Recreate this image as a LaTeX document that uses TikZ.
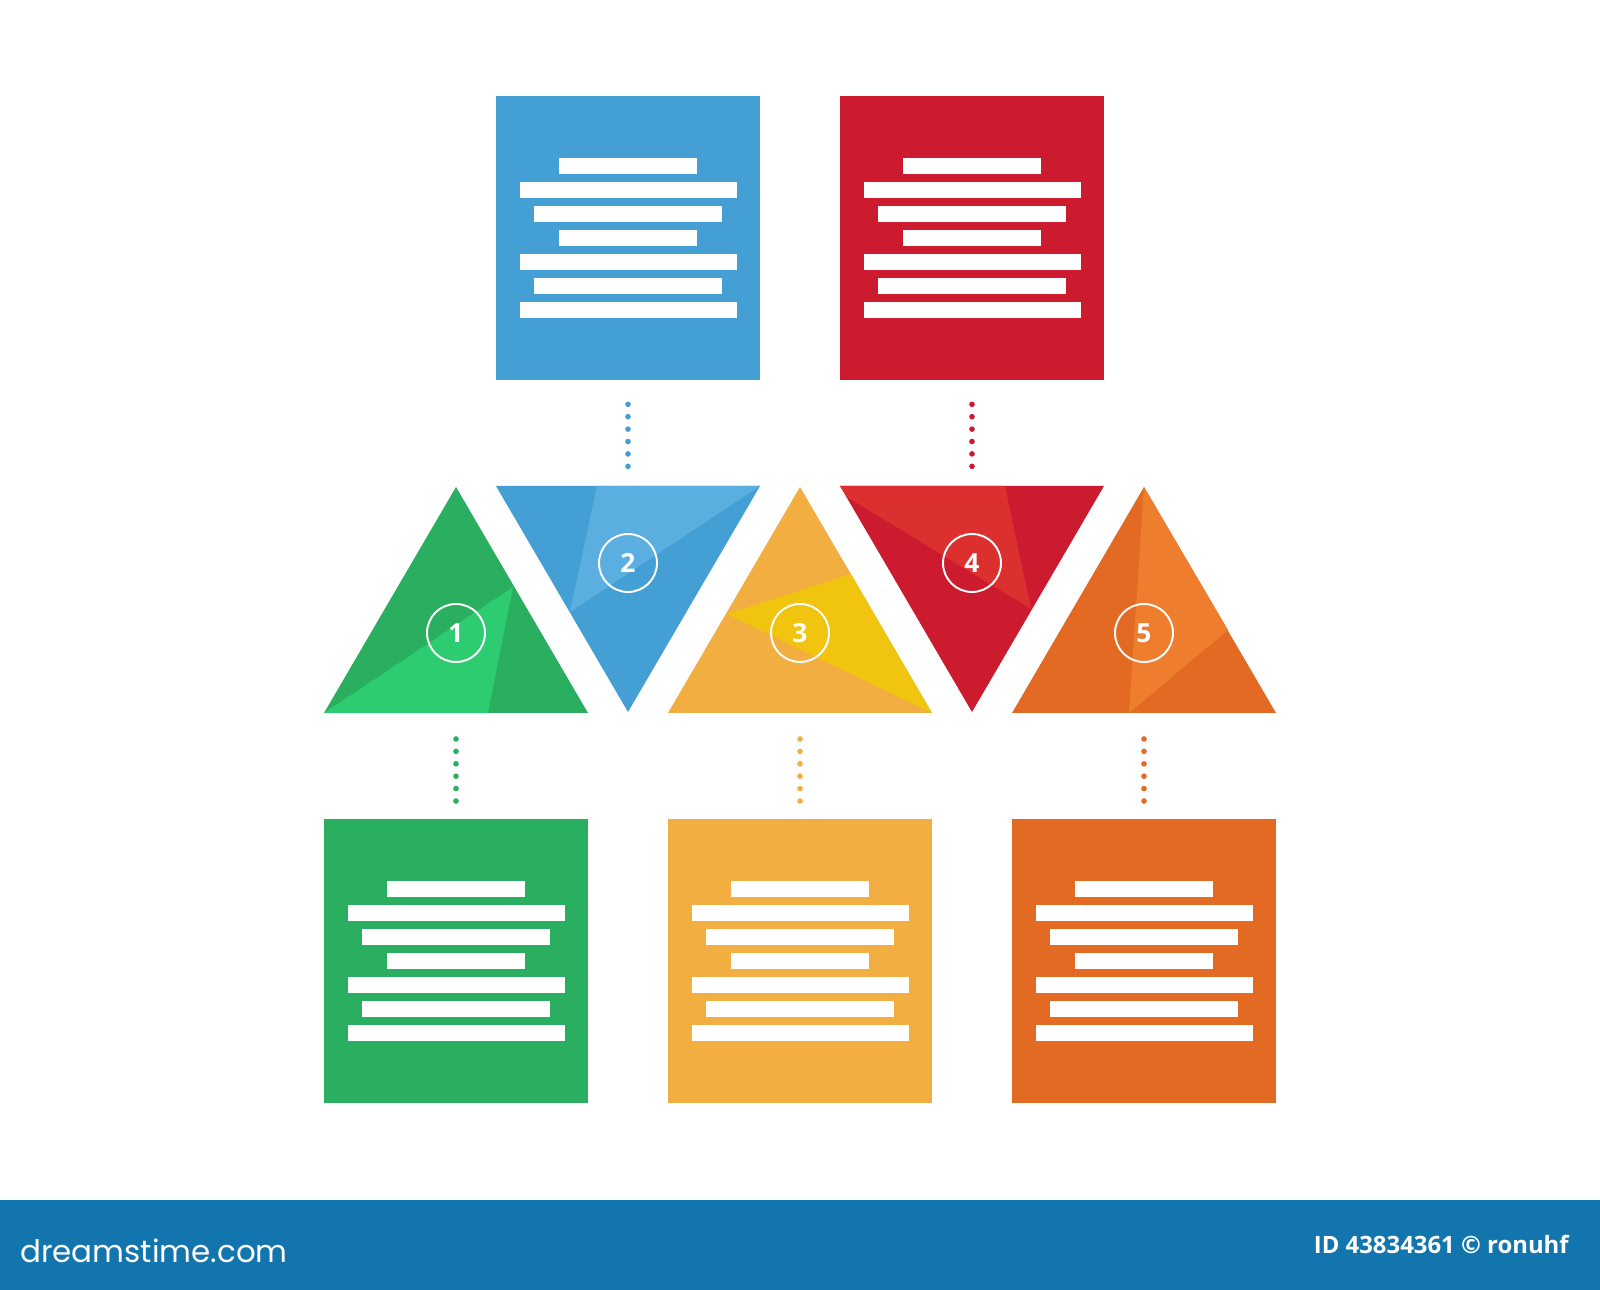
\documentclass[tikz,border=0pt]{standalone}
\usepackage{fontspec}
\setmainfont{Open Sans}
\newfontfamily\logofont{Poppins}
\usetikzlibrary{positioning}
\definecolor{cgreen}{HTML}{2AAE5F}
\definecolor{cgreenl}{HTML}{2ECC71}
\definecolor{cblue}{HTML}{449FD5}
\definecolor{cbluel}{HTML}{5AAFE0}
\definecolor{cyel}{HTML}{F2AE40}
\definecolor{cyell}{HTML}{F1C40F}
\definecolor{cred}{HTML}{CC1A2E}
\definecolor{credl}{HTML}{DC3030}
\definecolor{corg}{HTML}{E36A22}
\definecolor{corgl}{HTML}{EE7E2E}
\definecolor{cbar}{HTML}{1275AE}
\tikzset{
  infobox/.style={rectangle, fill=#1, minimum width=5.28cm, minimum height=5.68cm, inner sep=0pt},
  numcirc/.style={circle, draw=white, line width=1.1pt, minimum size=1.16cm, inner sep=0pt, text=white, font=\fontsize{15}{15}\selectfont\bfseries},
  dotline/.style={#1, line width=3.2pt, line cap=round, dash pattern=on 0pt off 7.06pt},
}
\newcommand\textlines[1]{\foreach \i/\w in {0/69,1/108.5,2/94,3/69,4/108.5,5/94,6/108.5}
  \fill[white] ([shift={(-\w,-80+24*\i)}]#1.center) rectangle ++(2*\w,16);}

\begin{document}
\begin{tikzpicture}[x=0.02cm, y=-0.02cm]
\useasboundingbox (0,0) rectangle (1600,1290);
\fill[white] (0,0) rectangle (1600,1290);
\node[infobox=cblue] (b2) at (628,238) {};
\node[infobox=cred] (b4) at (972,238) {};
\node[infobox=cgreen] (b1) at (456,961) {};
\node[infobox=cyel] (b3) at (800,961) {};
\node[infobox=corg] (b5) at (1144,961) {};
\foreach \b in {b1,b2,b3,b4,b5} {\textlines{\b}}
\fill[cgreen] (324,713) -- (456,487) -- (588,713) -- cycle;
\fill[cgreenl] (324,713) -- (513,587) -- (488,713) -- cycle;
\fill[cblue] (496,486) -- (760,486) -- (628,712) -- cycle;
\fill[cbluel] (597,486) -- (760,486) -- (570,612) -- cycle;
\fill[cyel] (668,713) -- (800,487) -- (932,713) -- cycle;
\fill[cyell] (727,614) -- (851,574) -- (932,713) -- cycle;
\fill[cred] (840,486) -- (1104,486) -- (972,712) -- cycle;
\fill[credl] (840,486) -- (1005,486) -- (1031,609) -- (847,497) -- cycle;
\fill[corg] (1012,713) -- (1144,487) -- (1276,713) -- cycle;
\fill[corgl] (1144,487) -- (1228,630) -- (1129,713) -- cycle;
\coordinate (t1) at (456,713);
\coordinate (t2) at (628,486);
\coordinate (t3) at (800,713);
\coordinate (t4) at (972,486);
\coordinate (t5) at (1144,713);
\node[numcirc] (n1) at (456,633) {1};
\node[numcirc] (n2) at (628,563) {2};
\node[numcirc] (n3) at (800,633) {3};
\node[numcirc] (n4) at (972,563) {4};
\node[numcirc] (n5) at (1144,633) {5};
\draw[dotline=cblue] ([yshift=-0.48cm]b2.south) -- ([yshift=0.39cm]t2);
\draw[dotline=cred] ([yshift=-0.48cm]b4.south) -- ([yshift=0.39cm]t4);
\draw[dotline=cgreen] ([yshift=-0.52cm]t1) -- ([yshift=0.35cm]b1.north);
\draw[dotline=cyel] ([yshift=-0.52cm]t3) -- ([yshift=0.35cm]b3.north);
\draw[dotline=corg] ([yshift=-0.52cm]t5) -- ([yshift=0.35cm]b5.north);
\fill[cbar] (0,1200) rectangle (1600,1290);
\node[anchor=base west, inner sep=0pt, text=white, font=\logofont\fontsize{17.6}{18}\selectfont] (logo) at (20,1262) {dreamstime.com};
\node[anchor=base east, inner sep=0pt, text=white, font=\bfseries\fontsize{13.6}{14}\selectfont] (credit) at (1569,1253) {ID 43834361 © ronuhf};
\end{tikzpicture}
\end{document}
